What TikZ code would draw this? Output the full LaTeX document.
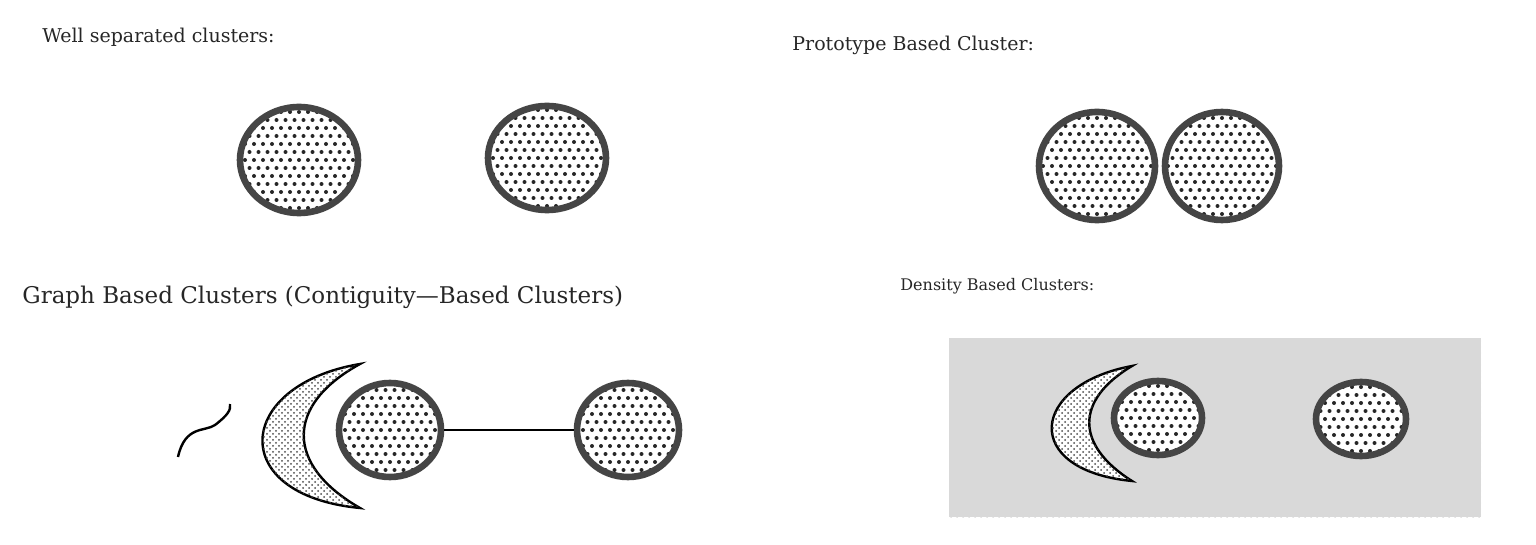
\documentclass[tikz,border=0pt]{standalone}
\usepackage{fontspec}
\setmainfont{DejaVu Serif}
\usetikzlibrary{shapes.geometric,patterns}
\definecolor{ring}{HTML}{454545}
\definecolor{bg}{HTML}{D9D9D9}
\tikzset{
  lbl/.style={anchor=west,inner sep=0pt,text=black!85},
  clus/.style={ellipse,draw=ring,line width=3.3pt,fill=white,inner sep=0pt,
    path picture={\foreach \j in {-9,...,9}{\foreach \i in {-10,...,10}{
      \pgfmathsetmacro\off{mod(abs(\j),2)*2.25}
      \fill[black!85] ([shift={(\i*4.5pt+\off pt,\j*4pt)}]path picture bounding box.center) circle (1pt);}}}},
  moon/.style={draw=black,line width=1.2pt,fill=white,postaction={pattern=crosshatch dots,pattern color=black!70}},
}
\begin{document}
\begin{tikzpicture}[x=0.5pt,y=-0.5pt]
\useasboundingbox (0,0) rectangle (1536,545);
\node[lbl,font=\fontsize{9.5pt}{11pt}\selectfont] (t1) at (42,37) {Well separated clusters:};
\node[lbl,font=\fontsize{9.5pt}{11pt}\selectfont] (t2) at (792,45) {Prototype Based Cluster:};
\node[lbl,font=\fontsize{11.5pt}{13pt}\selectfont] (t3) at (22,297) {Graph Based Clusters (Contiguity—Based Clusters)};
\node[lbl,font=\fontsize{8pt}{10pt}\selectfont] (t4) at (900,286) {Density Based Clusters:};
% well separated
\node[clus,minimum width=59pt,minimum height=53pt] (a1) at (299,160) {};
\node[clus,minimum width=59pt,minimum height=52pt] (a2) at (547,158) {};
% prototype
\node[clus,minimum width=58pt,minimum height=54pt] (b1) at (1097,166) {};
\node[clus,minimum width=57pt,minimum height=54pt] (b2) at (1222,166) {};
% graph based
\draw[line width=1.2pt] (178,457) .. controls (185,425) and (205,432) .. (215,425) .. controls (228,415) and (231,410) .. (230,404);
\draw[moon] (360,364) .. controls (235,385) and (225,495) .. (360,508) .. controls (285,465) and (285,405) .. (360,364) -- cycle;
\node[clus,minimum width=51pt,minimum height=47pt] (c1) at (390,430) {};
\node[clus,minimum width=51pt,minimum height=47pt] (c2) at (628,430) {};
\draw[line width=1.2pt] (c1) -- (c2);
% density
\fill[bg,postaction={pattern=crosshatch dots,pattern color=white!70!gray}] (949,338) rectangle (1481,517);
\draw[moon] (1132,366) .. controls (1030,385) and (1020,470) .. (1132,481) .. controls (1075,445) and (1075,400) .. (1132,366) -- cycle;
\node[clus,minimum width=44pt,minimum height=37pt] (d1) at (1158,418) {};
\node[clus,minimum width=45pt,minimum height=37pt] (d2) at (1361,419) {};
\end{tikzpicture}
\end{document}
